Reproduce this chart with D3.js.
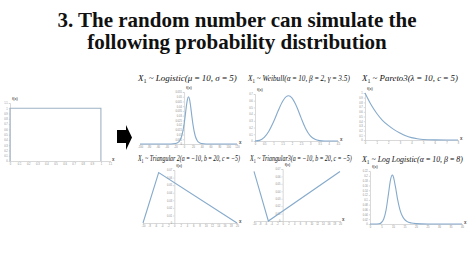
<!DOCTYPE html>
<html>
<head>
<meta charset="utf-8">
<script src="https://cdn.jsdelivr.net/npm/d3@7"></script>
<style>
  body { margin: 0; background: #fff; }
  svg { display: block; }
  .tick text { font-family: "Liberation Sans", sans-serif; fill: #8a8a8a; }
  .domain, .tick line { stroke: #cfcfcf; stroke-width: 0.8; }
</style>
</head>
<body>
<div id="chart"></div>
<script>
// values
var uniformX = [0, 0, 1, 1];
var uniformY = [0, 1, 1, 0];
var uniformTicks = [0, 0.1, 0.2, 0.3, 0.4, 0.5, 0.6, 0.7, 0.8, 0.9, 1, 1.1];

var logisticX = [-100, -40, -30, -20, -15, -10, -5, 0, 2.5, 5, 7.5, 10, 12.5, 15, 17.5, 20, 25, 30, 35, 40, 50, 60, 120];
var logisticY = [0, 0, 0.00007, 0.0005, 0.0013, 0.0035, 0.009, 0.021, 0.0298, 0.0393, 0.047, 0.05, 0.047, 0.0393, 0.0298, 0.021, 0.009, 0.0035, 0.0013, 0.0005, 0.00007, 0, 0];
var logisticXTicks = [-100, -80, -60, -40, -20, 0, 20, 40, 60, 80, 100, 120];
var logisticYTicks = [0, 0.005, 0.01, 0.015, 0.02, 0.025, 0.03, 0.035, 0.04, 0.045, 0.05, 0.055];

var weibullX = [0, 0.25, 0.5, 0.75, 1, 1.25, 1.5, 1.75, 1.82, 2, 2.25, 2.5, 2.75, 3, 3.25, 3.5, 3.75, 4, 4.5];
var weibullY = [0, 0.0097, 0.054, 0.146, 0.283, 0.446, 0.592, 0.67, 0.674, 0.644, 0.519, 0.344, 0.184, 0.077, 0.025, 0.006, 0.001, 0, 0];
var weibullXTicks = [0, 0.5, 1, 1.5, 2, 2.5, 3, 3.5, 4, 4.5];
var weibullYTicks = [0, 0.1, 0.2, 0.3, 0.4, 0.5, 0.6, 0.7];

var paretoX = [0, 0.5, 1, 1.5, 2, 2.5, 3, 3.5, 4, 4.5, 5, 6, 7, 8];
var paretoY = [1, 0.76, 0.57, 0.42, 0.31, 0.22, 0.15, 0.09, 0.05, 0.025, 0.01, 0.002, 0, 0];
var paretoXTicks = [0, 1, 2, 3, 4, 5, 6, 7, 8];
var paretoYTicks = [0, 0.1, 0.2, 0.3, 0.4, 0.5, 0.6, 0.7, 0.8, 0.9, 1];

var tri2X = [-10, -5, 20];
var tri2Y = [0, 0.0667, 0];
var tri3X = [-10, -5, 20];
var tri3Y = [0.0667, 0, 0.0667];
var triXTicks = [-10, -8, -6, -4, -2, 0, 2, 4, 6, 8, 10, 12, 14, 16, 18, 20];
var triYTicks = [0, 0.01, 0.02, 0.03, 0.04, 0.05, 0.06, 0.07];

var logLogX = [0, 2, 4, 5, 6, 7, 8, 9, 9.7, 10, 11, 12, 13, 14, 15, 16, 18, 20, 25, 30, 40];
var logLogY = [0, 0, 0.0013, 0.0062, 0.0217, 0.0589, 0.123, 0.187, 0.2032, 0.2, 0.158, 0.102, 0.06, 0.034, 0.019, 0.011, 0.004, 0.0016, 0.0002, 0, 0];
var logLogXTicks = [0, 5, 10, 15, 20, 25, 30, 35, 40];
var logLogYTicks = [0, 0.02, 0.04, 0.06, 0.08, 0.1, 0.12, 0.14, 0.16, 0.18, 0.2, 0.22];

var titleLines = ["3. The random number can simulate the", "following probability distribution"];

var svg = d3.select("#chart").append("svg")
    .attr("width", 474)
    .attr("height", 267);

svg.selectAll("text.title")
    .data(titleLines)
    .enter()
    .append("text")
    .attr("class", "title")
    .attr("x", 237)
    .attr("y", (d, i) => 27 + 22 * i)
    .attr("text-anchor", "middle")
    .attr("font-family", "Liberation Serif, serif")
    .attr("font-weight", "bold")
    .attr("font-size", 21)
    .attr("fill", "#111")
    .text(d => d);

// arrow
svg.append("path")
    .attr("d", "M117,130 L126,130 L126,125 L132,137.5 L126,150 L126,143 L117,143 Z")
    .attr("fill", "#000");

function drawPanel(p) {
    var x = d3.scaleLinear().domain(p.xDomain).range([p.left, p.right]);
    var y = d3.scaleLinear().domain(p.yDomain).range([p.bottom, p.top]);
    var g = svg.append("g");

    g.append("g")
        .attr("transform", "translate(0," + y(0) + ")")
        .call(d3.axisBottom(x).tickValues(p.xTicks).tickSize(1.2).tickPadding(1).tickFormat(d => String(+d.toFixed(4))))
        .call(a => a.selectAll("text").attr("font-size", 2.6));

    g.append("g")
        .attr("transform", "translate(" + x(Math.max(0, p.xDomain[0])) + ",0)")
        .call(d3.axisLeft(y).tickValues(p.yTicks).tickSize(1.2).tickPadding(1).tickFormat(d => String(+d.toFixed(4))))
        .call(a => a.selectAll("text").attr("font-size", 2.6));

    g.append("text")
        .attr("x", x(Math.max(0, p.xDomain[0])) + 2)
        .attr("y", p.top - 3)
        .attr("font-family", "Liberation Sans, sans-serif")
        .attr("font-weight", "bold")
        .attr("font-size", 3.6)
        .attr("fill", "#555")
        .text("f(x)");

    g.append("text")
        .attr("x", p.right + 2)
        .attr("y", y(0))
        .attr("font-family", "Liberation Sans, sans-serif")
        .attr("font-weight", "bold")
        .attr("font-size", 4.5)
        .attr("fill", "#555")
        .text("x");

    var pts = p.xs.map((v, i) => [v, p.ys[i]]);
    var line = d3.line()
        .x(d => x(d[0]))
        .y(d => y(d[1]))
        .curve(p.smooth ? d3.curveMonotoneX : d3.curveLinear);
    g.append("path")
        .attr("d", line(pts))
        .attr("fill", "none")
        .attr("stroke", p.color || "#86aacb")
        .attr("stroke-width", 1.1);

    if (p.title) {
        var t = g.append("text")
            .attr("transform", "translate(" + p.titleX + "," + p.titleY + ")")
            .attr("font-family", "Liberation Serif, serif")
            .attr("font-style", "italic")
            .attr("font-size", 9)
            .attr("fill", "#111");
        t.append("tspan").text("X");
        t.append("tspan").attr("font-size", "0.68em").attr("dy", 2).attr("font-style", "normal").text("1");
        t.append("tspan").attr("dy", -2).text(" ~ " + p.title.replace(/ = /g, "\u2009=\u2009"));
        // squeeze the title horizontally so it fits its slot
        var len = t.node().getComputedTextLength();
        var sx = Math.min(1, p.titleW / len);
        t.attr("transform", "translate(" + p.titleX + "," + p.titleY + ") scale(" + sx + ",1)");
    }
}

drawPanel({ xs: uniformX, ys: uniformY, xDomain: [0, 1.1], yDomain: [0, 1.1], xTicks: uniformTicks, yTicks: uniformTicks,
    left: 10, right: 110, top: 103, bottom: 161, color: "#9fb2c6" });

drawPanel({ xs: logisticX, ys: logisticY, smooth: true, xDomain: [-100, 120], yDomain: [0, 0.055], xTicks: logisticXTicks, yTicks: logisticYTicks,
    left: 140, right: 237, top: 92, bottom: 144,
    title: "Logistic(\u03bc = 10, \u03c3 = 5)", titleX: 138, titleY: 81, titleW: 99 });

drawPanel({ xs: weibullX, ys: weibullY, smooth: true, xDomain: [0, 4.5], yDomain: [0, 0.7], xTicks: weibullXTicks, yTicks: weibullYTicks,
    left: 255, right: 338, top: 94, bottom: 141,
    title: "Weibull(\u03b1 = 10, \u03b2 = 2, \u03b3 = 3.5)", titleX: 248, titleY: 81, titleW: 102 });

drawPanel({ xs: paretoX, ys: paretoY, smooth: true, xDomain: [0, 8], yDomain: [0, 1], xTicks: paretoXTicks, yTicks: paretoYTicks,
    left: 365, right: 458, top: 93, bottom: 140,
    title: "Pareto3(\u03bb = 10, c = 5)", titleX: 362, titleY: 81, titleW: 96 });

drawPanel({ xs: tri2X, ys: tri2Y, xDomain: [-10, 20], yDomain: [0, 0.07], xTicks: triXTicks, yTicks: triYTicks,
    left: 143, right: 237, top: 170, bottom: 223,
    title: "Triangular 2(a = \u221210, b = 20, c = \u22125)", titleX: 138, titleY: 161, titleW: 102 });

drawPanel({ xs: tri3X, ys: tri3Y, xDomain: [-10, 20], yDomain: [0, 0.07], xTicks: triXTicks, yTicks: triYTicks,
    left: 254, right: 340, top: 169, bottom: 221,
    title: "Triangular3(a = \u221210, b = 20, c = \u22125)", titleX: 250, titleY: 161, titleW: 102 });

drawPanel({ xs: logLogX, ys: logLogY, smooth: true, xDomain: [0, 40], yDomain: [0, 0.22], xTicks: logLogXTicks, yTicks: logLogYTicks,
    left: 370, right: 462, top: 171, bottom: 224,
    title: "Log Logistic(\u03b1 = 10, \u03b2 = 8)", titleX: 362, titleY: 162, titleW: 101 });
</script>
</body>
</html>
